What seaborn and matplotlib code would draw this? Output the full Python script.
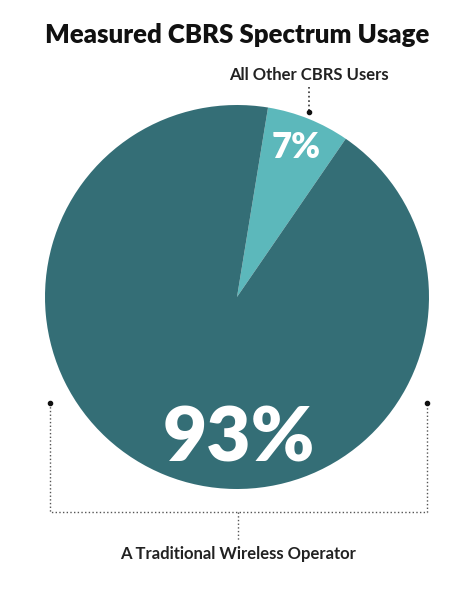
import seaborn as sns
from matplotlib import pyplot as plt

sns.set_style("white")
plt.rcParams['font.family'] = ['Lato', 'DejaVu Sans']

# data
labels = ['All Other CBRS Users', 'A Traditional Wireless Operator']
shares = [7, 93]
colors = ['#5CB8BB', '#346E76']

fig = plt.figure(figsize=(4.74, 5.92), dpi=100)
ax = fig.add_axes([0, 0, 1, 1])

# pie centred at (237, 297) pixels from top
cx, cy, r = 237, 592 - 297, 192
wedges, _ = ax.pie(shares, colors=colors, startangle=55.5, center=(cx, cy), radius=r,
                   wedgeprops=dict(linewidth=0), frame=True)
ax.set_xlim(0, 474)
ax.set_ylim(0, 592)
ax.axis('off')

ax.text(296, 592 - 147, f'{shares[0]}%', color='white', fontsize=25, fontweight='heavy',
        ha='center', va='center')
ax.text(239, 592 - 440, f'{shares[1]}%', color='white', fontsize=55, fontweight='heavy',
        ha='center', va='center')

fig.suptitle('Measured CBRS Spectrum Usage', y=1 - 35 / 592, va='center',
             fontsize=18.5, fontweight='heavy', color='#111111')

# top callout
ax.text(309, 592 - 75, labels[0], fontsize=12, fontweight='bold', color='#222222',
        ha='center', va='center')
ax.plot([309, 309], [592 - 87, 592 - 112], ls=':', color='#333333', lw=1.2)
ax.plot([309], [592 - 112], 'o', color='#111111', ms=3)

# bottom bracket
line_kw = dict(ls=':', color='#555555', lw=1)
ax.plot([50, 50, 427, 427], [592 - 403, 592 - 512, 592 - 512, 592 - 403], **line_kw)
ax.plot([238, 238], [592 - 512, 592 - 540], **line_kw)
ax.plot([50, 427], [592 - 403, 592 - 403], 'o', color='#111111', ms=3, ls='none')
ax.text(238, 592 - 554, labels[1], fontsize=12, fontweight='bold', color='#222222',
        ha='center', va='center')

fig.savefig('out.png', dpi=100, facecolor='white')
